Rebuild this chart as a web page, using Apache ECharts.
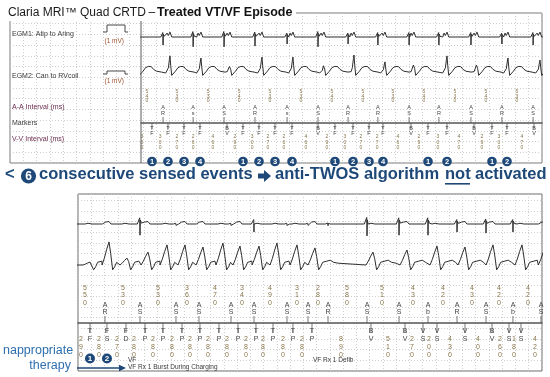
<!DOCTYPE html>
<html>
<head>
<meta charset="utf-8">
<script src="https://cdn.jsdelivr.net/npm/echarts@6/dist/echarts.min.js"></script>
<style>
html,body{margin:0;padding:0;background:#ffffff;}
#chart{width:550px;height:377px;}
</style>
</head>
<body>
<div id="chart"></div>
<script>
// ===================== DATA (times in ms from the left edge of each strip) =====================
const stripSpanMs = 7000;

// ---- upper strip: treated VT/VF episode ----
const topATimes   = [385, 910, 1450, 1990, 2550, 3090, 3615, 4135, 4680, 5200, 5760, 6300, 6845];
const topALabels  = ['R','s','S','R','s','S','R','R','S','R','S','R','S'];
const topADepthMv = [1.15, 1.4, 1.4, 1.3, 1.0, 1.4, 1.0, 1.15, 1.15, 1.15, 1.15, 1.0, 1.15];
const topAATimes  = [105, 628, 1170, 1711, 2252, 2793, 3334, 3875, 4399, 4940, 5481, 6022, 6563];
const topAAValues = [540, 530, 530, 540, 530, 530, 540, 540, 530, 540, 530, 540, 530];
const topVTimes   = [192, 471, 751, 1030, 1501, 1781, 2060, 2339, 2636, 3090, 3386, 3701, 3980, 4224, 4713, 5010, 5342, 5813, 6127, 6389, 6860];
const topVLabels  = ['TF','TF','TF','TF','BV','TF','TF','TF','TF','BV','TF','TF','TF','TF','BV','TF','TF','BV','TF','TF','BV'];
const topSensedCount = [1,2,3,4,0,1,2,3,4,0,1,2,3,4,0,1,2,0,1,2,0];
const topVVTimes  = [17, 332, 628, 908, 1257, 1641, 1938, 2217, 2496, 2880, 3247, 3561, 3840, 4120, 4486, 4853, 5184, 5551, 5952, 6249, 6651];
const topVVValues = [300, 300, 270, 260, 460, 290, 300, 270, 260, 460, 290, 300, 270, 270, 460, 290, 300, 470, 290, 300, 470];
const topRTimes   = [-60, 506, 1047, 1554, 2112, 2653, 3194, 3718, 4259, 4765, 5342, 5865, 6406, 6965];
const topRAmpMv   = [5.0, 5.7, 5.0, 2.7, 5.3, 5.3, 3.0, 6.0, 3.7, 3.3, 5.7, 3.3, 5.0, 4.3];
const topFarFieldMv = 0.7;

// ---- lower strip: inappropriate therapy ----
const botATimes   = [407, 935, 1478, 1825, 2308, 2655, 3153, 3470, 3772, 4360, 4843, 5280, 5718, 6155, 6562, 6985];
const botALabels  = ['R','S','S','S','S','S','S','S','R','S','S','b','R','S','b','S'];
const botADepthMv = [2.3, 1.6, 0.2, 0.2, 0.2, 1.15, 0.2, 0.2, 0.25, 1.7, 1.6, 1.6, 1.15, 1.3, 1.15, 0.9];
const botAATimes  = [106, 679, 1207, 1644, 2067, 2474, 2897, 3304, 3621, 4058, 4586, 5054, 5506, 5944, 6351, 6789];
const botAAValues = [550, 530, 530, 360, 470, 340, 490, 310, 280, 580, 510, 430, 420, 430, 420, 420];
const botVTimes   = [181, 437, 724, 1011, 1282, 1569, 1840, 2127, 2414, 2685, 2942, 3243, 3530, 4420, 4933, 5205, 5416, 5838, 6246, 6502, 6683];
const botVLabels  = ['TF','FS','FD','TP','TP','TP','TP','TP','TP','TP','TP','TP','TP','BV','BV','VS','VS','VS','BV','VS','VS'];
const botSensedCount = [1,2,0,0,0,0,0,0,0,0,0,0,0,0,0,0,0,0,0,0,0];
const botVVTimes  = [45, 317, 588, 845, 1131, 1418, 1690, 1961, 2248, 2534, 2791, 3093, 3379, 3968, 4677, 5039, 5295, 5612, 6034, 6366, 6577, 6894];
const botVVValues = [290, 280, 270, 280, 280, 280, 280, 280, 280, 280, 280, 280, 280, 890, 510, 270, 200, 430, 400, 260, 180, 420];
const botRTimes   = [181, 468, 739, 1056, 1343, 1614, 1886, 2187, 2444, 2731, 3002, 3304, 3575, 4450, 4963, 5416, 5838, 6261, 6698, 7050];
const botRAmpMv   = [1.0, 7.7, 2.3, 4.3, 6.7, 6.7, 6.0, 7.3, 6.3, 6.3, 7.3, 6.7, 5.7, 4.3, 5.0, 6.3, 6.0, 6.7, 6.7, 6.0];
const botFarFieldMv = 0.35;
const botNoteTimes = [754, 3545];
const botNoteTexts = ['VF\nVF Rx 1 Burst During Charging', 'VF Rx 1 Defib'];

// waveform shapes read from the strips: [ms offset, value]
const atrialShape   = [[-40,0],[-14,0.15],[-4,0.55],[0,-1],[6,0.35],[20,0.08],[40,0]];          // x depth
const farFieldShape = [[-75,0],[-50,0.8],[-30,0.3],[0,1],[30,0],[60,0]];                          // x amplitude
const topBeatShape  = A => [[-75,0],[-50,0.45],[-28,0.3*A],[-10,0.8*A],[0,A],[12,0.45*A],[30,-0.8],[60,-0.4],[95,0.6],[140,1.8],[190,2.2],[240,2.1],[280,1.2],[330,0.6],[420,0.3]];
const vtBeatShape   = A => [[-105,0],[-70,0.3*A],[-35,0.68*A],[0,A],[25,0.5*A],[55,-1.6],[85,-0.6],[115,0.9],[140,0.5],[180,1.3],[230,1.6],[280,0.9],[350,0.6]];

// ===================== BUILD =====================
function scaled(shape, k){ return shape.map(([d,v]) => [d, v*k]); }
function composeTrace(events){
  events.sort((a,b)=>a.t-b.t);
  const pts=[[-300,0]]; let last=-300;
  events.forEach((e,i)=>{
    const nx=events[i+1];
    const limit = nx ? nx.t + nx.shape[0][0] : Infinity;
    e.shape.forEach(([d,v])=>{ const x=e.t+d; if(x>last && x<limit){pts.push([x,v]); last=x;} });
  });
  if(last<7300) pts.push([7300,0]);
  return pts;
}
const topEGM1 = composeTrace(
  topATimes.map((t,i)=>({t, shape:scaled(atrialShape, topADepthMv[i])}))
  .concat(topRTimes.map(t=>({t, shape:scaled(farFieldShape, topFarFieldMv)}))));
const topEGM2 = composeTrace(topRTimes.map((t,i)=>({t, shape:topBeatShape(topRAmpMv[i])})));
const botEGM1 = composeTrace(
  botATimes.map((t,i)=>({t, shape:scaled(atrialShape, botADepthMv[i])}))
  .concat(botRTimes.map(t=>({t, shape:scaled(farFieldShape, botFarFieldMv)}))));
const botEGM2 = composeTrace(botRTimes.map((t,i)=>({t, shape:vtBeatShape(botRAmpMv[i])})));

const FONT = 'Liberation Sans';
const NAVY = '#1d4878';
const DIGIT = '#87744a';
const MARK = '#444444';
const stack = s => String(s).split('').join('\n');

const hidden = {axisLine:{show:false},axisTick:{show:false},axisLabel:{show:false},splitLine:{show:false}};
const dotted = {color:'#c3c3c3', type:[1,2], width:0.8};
function bgAxes(g, xmax, ymax){
  return {
    x:{gridIndex:g,type:'value',min:0,max:xmax,interval:1,axisLine:{show:false},axisTick:{show:false},axisLabel:{show:false},splitLine:{show:true,lineStyle:dotted}},
    y:{gridIndex:g,type:'value',min:0,max:ymax,interval:1,axisLine:{show:false},axisTick:{show:false},axisLabel:{show:false},splitLine:{show:true,lineStyle:dotted}}
  };
}
function timeAxis(g, line){
  return Object.assign({gridIndex:g,type:'value',min:0,max:stripSpanMs}, hidden,
    line ? {axisLine:{show:true,onZero:false,lineStyle:{color:'#555',width:1.5}}} : {});
}
function valAxis(g,min,max){ return Object.assign({gridIndex:g,type:'value',min,max}, hidden); }

function textSeries(g, times, texts, dy, fs, lh, color, align){
  return {type:'custom', xAxisIndex:g, yAxisIndex:g, clip:false, silent:true, z:5,
    data: times.map(t=>[t,0]),
    renderItem:(params,api)=>{
      const p=api.coord([api.value(0),0]);
      return {type:'text', x:p[0], y:p[1]+dy, style:{text:texts[params.dataIndex], fill:color, fontSize:fs, fontFamily:FONT, lineHeight:lh, align:align||'center', verticalAlign:'top'}};
    }};
}
function markerSeries(g, times, labels, tick0, tick1, dy, fs, lh){
  return {type:'custom', xAxisIndex:g, yAxisIndex:g, clip:false, silent:true, z:5,
    data: times.map(t=>[t,0]),
    renderItem:(params,api)=>{
      const p=api.coord([api.value(0),0]);
      return {type:'group', children:[
        {type:'line', shape:{x1:p[0],y1:p[1]+tick0,x2:p[0],y2:p[1]+tick1}, style:{stroke:'#555',lineWidth:0.8}},
        {type:'text', x:p[0], y:p[1]+dy, style:{text:stack(labels[params.dataIndex]), fill:MARK, fontSize:fs, fontFamily:FONT, lineHeight:lh, align:'center', verticalAlign:'top'}}
      ]};
    }};
}
function circleSeries(g, times, counts, dy, r, fs){
  const d=[]; times.forEach((t,i)=>{ if(counts[i]>0) d.push([t,0,counts[i]]); });
  return {type:'custom', xAxisIndex:g, yAxisIndex:g, clip:false, silent:true, z:6,
    data:d,
    renderItem:(params,api)=>{
      const p=api.coord([api.value(0),0]);
      return {type:'group', children:[
        {type:'circle', shape:{cx:p[0],cy:p[1]+dy,r}, style:{fill:NAVY}},
        {type:'text', x:p[0], y:p[1]+dy+0.5, style:{text:String(api.value(2)), fill:'#fff', fontSize:fs, fontWeight:'bold', fontFamily:FONT, align:'center', verticalAlign:'middle'}}
      ]};
    }};
}

const bgTop = bgAxes(0, 40, 14);
const bgBot = bgAxes(4, 35, 16.6);

const grids = [
  {left:10, top:13, width:532, height:150, show:true, borderColor:'#7a7a7a', borderWidth:1, backgroundColor:'transparent'},
  {left:141, top:23, width:401, height:28},
  {left:141, top:53, width:401, height:26},
  {left:141, top:83, width:401, height:40},
  {left:78, top:194, width:464, height:177, show:true, borderColor:'#6a6a6a', borderWidth:1, backgroundColor:'transparent'},
  {left:78, top:210, width:464, height:35},
  {left:78, top:238, width:464, height:36},
  {left:78, top:283, width:464, height:40}
].map(g=>Object.assign({outerBoundsMode:'none', containLabel:false}, g));

const lineStyle = {color:'#2e2e2e', width:1};
const option = {
  animation:false,
  backgroundColor:'#ffffff',
  grid: grids,
  xAxis:[bgTop.x, timeAxis(1), timeAxis(2), timeAxis(3,true), bgBot.x, timeAxis(5), timeAxis(6), timeAxis(7,true)],
  yAxis:[bgTop.y, valAxis(1,-2,2), valAxis(2,-2,6.6667), valAxis(3,0,1), bgBot.y, valAxis(5,-3,2), valAxis(6,-3,9), valAxis(7,0,1)],
  series:[
    {type:'line', xAxisIndex:1, yAxisIndex:1, data:topEGM1, showSymbol:false, lineStyle, silent:true, z:3},
    {type:'line', xAxisIndex:2, yAxisIndex:2, data:topEGM2, showSymbol:false, lineStyle, silent:true, z:3},
    textSeries(3, topAATimes, topAAValues.map(stack), -33.4, 5, 4.6, DIGIT),
    markerSeries(3, topATimes, topALabels.map(l=>'A'+l), -6, 0, -17.8, 5.5, 5.5),
    markerSeries(3, topVTimes, topVLabels, 0, 6, 2.3, 5.5, 5.5),
    textSeries(3, topVVTimes, topVVValues.map(stack), 11.4, 5, 5.2, DIGIT),
    circleSeries(3, topVTimes, topSensedCount, 38.5, 4.8, 7.5),
    {type:'line', xAxisIndex:5, yAxisIndex:5, data:botEGM1, showSymbol:false, lineStyle, silent:true, z:3},
    {type:'line', xAxisIndex:6, yAxisIndex:6, data:botEGM2, showSymbol:false, lineStyle, silent:true, z:3},
    textSeries(7, botAATimes, botAAValues.map(stack), -38.8, 7, 7.5, DIGIT),
    markerSeries(7, botATimes, botALabels.map(l=>'A'+l), -7, 0, -21.8, 7, 7.5),
    markerSeries(7, botVTimes, botVLabels, 0, 10, 4, 7, 8),
    textSeries(7, botVVTimes, botVVValues.map(stack), 11.9, 7, 8.2, DIGIT),
    circleSeries(7, botVTimes, botSensedCount, 35.5, 5, 8),
    textSeries(7, botNoteTimes, botNoteTexts, 33.2, 6.5, 7.5, '#3a3a3a', 'left')
  ],
  graphic:[
    // title
    {type:'rect', z:100, shape:{x:4,y:3,width:292,height:18}, style:{fill:'#fff'}},
    {type:'text', z:101, x:8, y:12.5, style:{text:'Claria MRI™ Quad CRTD', fontSize:12, fontFamily:FONT, fill:'#1a1a1a', verticalAlign:'middle'}},
    {type:'text', z:101, x:148.5, y:12.5, style:{text:'–', fontSize:12, fontFamily:FONT, fill:'#1a1a1a', verticalAlign:'middle'}},
    {type:'text', z:101, x:157, y:12.5, style:{text:'Treated VT/VF Episode', fontSize:12.5, fontWeight:'bold', fontFamily:FONT, fill:'#111', verticalAlign:'middle'}},
    // column separator
    {type:'line', z:50, shape:{x1:141,y1:13,x2:141,y2:163}, style:{stroke:'#5a5a5a', lineWidth:1}},
    // channel labels
    {type:'text', z:50, x:12, y:34, style:{text:'EGM1: Atip to Aring', fontSize:7, fontFamily:FONT, fill:'#3a3a3a', verticalAlign:'middle'}},
    {type:'text', z:50, x:104.5, y:41, style:{text:'(1 mV)', fontSize:6.5, fontFamily:FONT, fill:'#a0522d', verticalAlign:'middle'}},
    {type:'polyline', z:50, shape:{points:[[103,32],[107,32],[107,25],[125,25],[125,32],[128,32]]}, style:{stroke:'#333', lineWidth:0.9, fill:null}},
    {type:'text', z:50, x:12, y:76, style:{text:'EGM2: Can to RVcoil', fontSize:7, fontFamily:FONT, fill:'#3a3a3a', verticalAlign:'middle'}},
    {type:'text', z:50, x:104.5, y:81, style:{text:'(1 mV)', fontSize:6.5, fontFamily:FONT, fill:'#a0522d', verticalAlign:'middle'}},
    {type:'polyline', z:50, shape:{points:[[103,74],[107,74],[107,71],[125,71],[125,74],[128,74]]}, style:{stroke:'#333', lineWidth:0.9, fill:null}},
    {type:'text', z:50, x:12, y:107, style:{text:'A-A Interval (ms)', fontSize:7, fontFamily:FONT, fill:'#6a2b4c', verticalAlign:'middle'}},
    {type:'text', z:50, x:12, y:123, style:{text:'Markers', fontSize:7, fontFamily:FONT, fill:'#3a3a3a', verticalAlign:'middle'}},
    {type:'text', z:50, x:12, y:139, style:{text:'V-V Interval (ms)', fontSize:7, fontFamily:FONT, fill:'#6a2b4c', verticalAlign:'middle'}},
    // caption
    {type:'text', z:50, x:5, y:174.5, style:{text:'<', fontSize:16.5, fontWeight:'bold', fontFamily:FONT, fill:NAVY, verticalAlign:'middle'}},
    {type:'circle', z:50, shape:{cx:28.5,cy:176,r:7.6}, style:{fill:NAVY}},
    {type:'text', z:51, x:28.5, y:176.5, style:{text:'6', fontSize:12, fontWeight:'bold', fontFamily:FONT, fill:'#fff', align:'center', verticalAlign:'middle'}},
    {type:'text', z:50, x:39, y:174.5, style:{text:'consecutive sensed events', fontSize:16.5, fontWeight:'bold', fontFamily:FONT, fill:NAVY, verticalAlign:'middle'}},
    {type:'polygon', z:50, shape:{points:[[258,173.5],[264,173.5],[264,170],[271,176],[264,182],[264,178.5],[258,178.5]]}, style:{fill:NAVY}},
    {type:'text', z:50, x:275, y:174.5, style:{text:'anti-TWOS algorithm', fontSize:16.5, fontWeight:'bold', fontFamily:FONT, fill:NAVY, verticalAlign:'middle'}},
    {type:'text', z:50, x:445, y:174.5, style:{text:'not', fontSize:16.5, fontWeight:'bold', fontFamily:FONT, fill:NAVY, verticalAlign:'middle'}},
    {type:'line', z:50, shape:{x1:445,y1:183.8,x2:470,y2:183.8}, style:{stroke:NAVY, lineWidth:1.6}},
    {type:'text', z:50, x:475, y:174.5, style:{text:'activated', fontSize:16.5, fontWeight:'bold', fontFamily:FONT, fill:NAVY, verticalAlign:'middle'}},
    // inappropriate therapy note
    {type:'text', z:50, x:3, y:351, style:{text:'nappropriate', fontSize:12.5, fontFamily:FONT, fill:'#2e6fb0', verticalAlign:'middle'}},
    {type:'text', z:50, x:71, y:366, style:{text:'therapy', fontSize:12.5, fontFamily:FONT, fill:'#2e6fb0', align:'right', verticalAlign:'middle'}},
    {type:'line', z:50, shape:{x1:77,y1:368,x2:121,y2:368}, style:{stroke:NAVY, lineWidth:1.5}},
    {type:'polygon', z:50, shape:{points:[[119,364.8],[126,368],[119,371.2]]}, style:{fill:NAVY}}
  ]
};
const chart = echarts.init(document.getElementById('chart'), null, {renderer:'canvas'});
chart.setOption(option);
</script>
</body>
</html>
